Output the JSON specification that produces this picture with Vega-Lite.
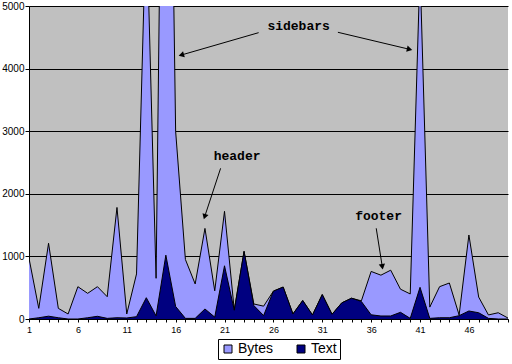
{
  "$schema": "https://vega.github.io/schema/vega-lite/v6.json",
  "width": 479,
  "height": 313,
  "autosize": "none",
  "padding": {"left": 29, "top": 6, "right": 4, "bottom": 45},
  "background": "white",
  "view": {"fill": "#C0C0C0", "stroke": null},
  "config": {"font": "Liberation Sans"},
  "datasets": {
    "series": [
      {"n": 1, "series": "Bytes", "v": 970}, {"n": 1, "series": "Text", "v": 0},
      {"n": 2, "series": "Bytes", "v": 170}, {"n": 2, "series": "Text", "v": 20},
      {"n": 3, "series": "Bytes", "v": 1210}, {"n": 3, "series": "Text", "v": 45},
      {"n": 4, "series": "Bytes", "v": 170}, {"n": 4, "series": "Text", "v": 20},
      {"n": 5, "series": "Bytes", "v": 80}, {"n": 5, "series": "Text", "v": 0},
      {"n": 6, "series": "Bytes", "v": 516}, {"n": 6, "series": "Text", "v": 0},
      {"n": 7, "series": "Bytes", "v": 410}, {"n": 7, "series": "Text", "v": 20},
      {"n": 8, "series": "Bytes", "v": 516}, {"n": 8, "series": "Text", "v": 43},
      {"n": 9, "series": "Bytes", "v": 356}, {"n": 9, "series": "Text", "v": 10},
      {"n": 10, "series": "Bytes", "v": 1782}, {"n": 10, "series": "Text", "v": 20},
      {"n": 11, "series": "Bytes", "v": 80}, {"n": 11, "series": "Text", "v": 16},
      {"n": 12, "series": "Bytes", "v": 720}, {"n": 12, "series": "Text", "v": 37},
      {"n": 13, "series": "Bytes", "v": 6500}, {"n": 13, "series": "Text", "v": 340},
      {"n": 14, "series": "Bytes", "v": 650}, {"n": 14, "series": "Text", "v": 50},
      {"n": 15, "series": "Bytes", "v": 14000}, {"n": 15, "series": "Text", "v": 1020},
      {"n": 16, "series": "Bytes", "v": 3000}, {"n": 16, "series": "Text", "v": 200},
      {"n": 17, "series": "Bytes", "v": 950}, {"n": 17, "series": "Text", "v": 10},
      {"n": 18, "series": "Bytes", "v": 560}, {"n": 18, "series": "Text", "v": 10},
      {"n": 19, "series": "Bytes", "v": 1447}, {"n": 19, "series": "Text", "v": 160},
      {"n": 20, "series": "Bytes", "v": 450}, {"n": 20, "series": "Text", "v": 30},
      {"n": 21, "series": "Bytes", "v": 1720}, {"n": 21, "series": "Text", "v": 850},
      {"n": 22, "series": "Bytes", "v": 140}, {"n": 22, "series": "Text", "v": 140},
      {"n": 23, "series": "Bytes", "v": 1080}, {"n": 23, "series": "Text", "v": 1080},
      {"n": 24, "series": "Bytes", "v": 240}, {"n": 24, "series": "Text", "v": 215},
      {"n": 25, "series": "Bytes", "v": 205}, {"n": 25, "series": "Text", "v": 55},
      {"n": 26, "series": "Bytes", "v": 445}, {"n": 26, "series": "Text", "v": 445},
      {"n": 27, "series": "Bytes", "v": 510}, {"n": 27, "series": "Text", "v": 510},
      {"n": 28, "series": "Bytes", "v": 80}, {"n": 28, "series": "Text", "v": 80},
      {"n": 29, "series": "Bytes", "v": 295}, {"n": 29, "series": "Text", "v": 295},
      {"n": 30, "series": "Bytes", "v": 64}, {"n": 30, "series": "Text", "v": 64},
      {"n": 31, "series": "Bytes", "v": 390}, {"n": 31, "series": "Text", "v": 390},
      {"n": 32, "series": "Bytes", "v": 75}, {"n": 32, "series": "Text", "v": 75},
      {"n": 33, "series": "Bytes", "v": 258}, {"n": 33, "series": "Text", "v": 258},
      {"n": 34, "series": "Bytes", "v": 332}, {"n": 34, "series": "Text", "v": 332},
      {"n": 35, "series": "Bytes", "v": 290}, {"n": 35, "series": "Text", "v": 280},
      {"n": 36, "series": "Bytes", "v": 760}, {"n": 36, "series": "Text", "v": 67},
      {"n": 37, "series": "Bytes", "v": 700}, {"n": 37, "series": "Text", "v": 48},
      {"n": 38, "series": "Bytes", "v": 780}, {"n": 38, "series": "Text", "v": 48},
      {"n": 39, "series": "Bytes", "v": 476}, {"n": 39, "series": "Text", "v": 107},
      {"n": 40, "series": "Bytes", "v": 400}, {"n": 40, "series": "Text", "v": 10},
      {"n": 41, "series": "Bytes", "v": 5600}, {"n": 41, "series": "Text", "v": 506},
      {"n": 42, "series": "Bytes", "v": 190}, {"n": 42, "series": "Text", "v": 10},
      {"n": 43, "series": "Bytes", "v": 516}, {"n": 43, "series": "Text", "v": 20},
      {"n": 44, "series": "Bytes", "v": 575}, {"n": 44, "series": "Text", "v": 20},
      {"n": 45, "series": "Bytes", "v": 64}, {"n": 45, "series": "Text", "v": 53},
      {"n": 46, "series": "Bytes", "v": 1342}, {"n": 46, "series": "Text", "v": 128},
      {"n": 47, "series": "Bytes", "v": 350}, {"n": 47, "series": "Text", "v": 100},
      {"n": 48, "series": "Bytes", "v": 65}, {"n": 48, "series": "Text", "v": 10},
      {"n": 49, "series": "Bytes", "v": 100}, {"n": 49, "series": "Text", "v": 0},
      {"n": 50, "series": "Bytes", "v": 15}, {"n": 50, "series": "Text", "v": 0}
    ],
    "labels": [
      {"label": "sidebars", "n": 28.58, "v": 4681},
      {"label": "header", "n": 22.29, "v": 2604},
      {"label": "footer", "n": 36.76, "v": 1645}
    ],
    "arrows": [
      {"id": "s1", "n": 24.49, "v": 4574, "n2": 16.58, "v2": 4217},
      {"id": "s2", "n": 32.6, "v": 4580, "n2": 39.93, "v2": 4308},
      {"id": "h", "n": 20.6, "v": 2407, "n2": 18.97, "v2": 1634},
      {"id": "f", "n": 36.52, "v": 1449, "n2": 37.14, "v2": 835}
    ],
    "heads": [
      {"id": "s1", "n": 16.58, "v": 4217},
      {"id": "s2", "n": 39.93, "v": 4308},
      {"id": "h", "n": 18.97, "v": 1634},
      {"id": "f", "n": 37.14, "v": 835}
    ]
  },
  "encoding": {
    "x": {
      "field": "n", "type": "quantitative",
      "scale": {"domain": [1, 50], "nice": false, "zero": false},
      "axis": {
        "values": [1,2,3,4,5,6,7,8,9,10,11,12,13,14,15,16,17,18,19,20,21,22,23,24,25,26,27,28,29,30,31,32,33,34,35,36,37,38,39,40,41,42,43,44,45,46,47,48,49,50],
        "format": "d",
        "labelExpr": "(datum.value - 1) % 5 == 0 ? datum.label : ''",
        "labelOverlap": false, "labelFlush": false, "grid": false, "title": null,
        "domainColor": "black", "tickColor": "black", "tickSize": 3,
        "labelFontSize": 9, "labelColor": "black", "labelPadding": 3
      }
    },
    "y": {
      "field": "v", "type": "quantitative", "stack": null,
      "scale": {"domain": [0, 5000], "nice": false},
      "axis": {
        "values": [0, 1000, 2000, 3000, 4000, 5000],
        "format": "d",
        "grid": true, "gridColor": "black", "gridOpacity": 1, "gridWidth": 1,
        "domainColor": "black", "tickColor": "black", "tickSize": 4,
        "labelFontSize": 10, "labelColor": "black", "labelPadding": 1,
        "labelFlush": false, "title": null
      }
    }
  },
  "layer": [
    {
      "data": {"name": "series"},
      "transform": [{"filter": "datum.series == 'Bytes'"}],
      "mark": {"type": "area", "clip": true, "opacity": 1},
      "encoding": {
        "color": {
          "field": "series", "type": "nominal",
          "scale": {"domain": ["Bytes", "Text"], "range": ["#9999FF", "#000080"]},
          "legend": {
            "title": null, "orient": "none", "legendX": 189, "legendY": 333,
            "direction": "horizontal", "strokeColor": "black", "fillColor": "white",
            "padding": 3, "symbolType": "square", "symbolSize": 64,
            "symbolStrokeColor": "black", "symbolStrokeWidth": 1, "symbolOpacity": 1,
            "labelFontSize": 14, "labelColor": "black", "columnPadding": 20, "labelOffset": 3,
            "encode": {"symbols": {"update": {"stroke": {"value": "black"}, "strokeWidth": {"value": 1}}}}
          }
        }
      }
    },
    {
      "data": {"name": "series"},
      "transform": [{"filter": "datum.series == 'Bytes'"}],
      "mark": {"type": "line", "color": "black", "strokeWidth": 1, "clip": true}
    },
    {
      "data": {"name": "series"},
      "transform": [{"filter": "datum.series == 'Text'"}],
      "mark": {"type": "area", "clip": true, "opacity": 1},
      "encoding": {
        "color": {
          "field": "series", "type": "nominal",
          "scale": {"domain": ["Bytes", "Text"], "range": ["#9999FF", "#000080"]},
          "legend": {
            "title": null, "orient": "none", "legendX": 189, "legendY": 333,
            "direction": "horizontal", "strokeColor": "black", "fillColor": "white",
            "padding": 3, "symbolType": "square", "symbolSize": 64,
            "symbolStrokeColor": "black", "symbolStrokeWidth": 1, "symbolOpacity": 1,
            "labelFontSize": 14, "labelColor": "black", "columnPadding": 20, "labelOffset": 3,
            "encode": {"symbols": {"update": {"stroke": {"value": "black"}, "strokeWidth": {"value": 1}}}}
          }
        }
      }
    },
    {
      "data": {"name": "series"},
      "transform": [{"filter": "datum.series == 'Text'"}],
      "mark": {"type": "line", "color": "black", "strokeWidth": 1, "clip": true}
    },
    {
      "data": {"name": "labels"},
      "mark": {"type": "text", "font": "Liberation Mono", "fontWeight": "bold", "fontSize": 13, "color": "black"},
      "encoding": {"text": {"field": "label"}}
    },
    {
      "data": {"name": "arrows"},
      "mark": {"type": "rule", "color": "black", "strokeWidth": 1},
      "encoding": {"x2": {"field": "n2"}, "y2": {"field": "v2"}}
    },
    {
      "data": {"name": "heads"},
      "transform": [{"filter": "datum.id == 's1'"}],
      "mark": {"type": "point", "shape": "triangle-up", "filled": true, "color": "black", "size": 40, "opacity": 1, "angle": 254}
    },
    {
      "data": {"name": "heads"},
      "transform": [{"filter": "datum.id == 's2'"}],
      "mark": {"type": "point", "shape": "triangle-up", "filled": true, "color": "black", "size": 40, "opacity": 1, "angle": 103}
    },
    {
      "data": {"name": "heads"},
      "transform": [{"filter": "datum.id == 'h'"}],
      "mark": {"type": "point", "shape": "triangle-up", "filled": true, "color": "black", "size": 40, "opacity": 1, "angle": 198}
    },
    {
      "data": {"name": "heads"},
      "transform": [{"filter": "datum.id == 'f'"}],
      "mark": {"type": "point", "shape": "triangle-up", "filled": true, "color": "black", "size": 40, "opacity": 1, "angle": 171}
    }
  ]
}
